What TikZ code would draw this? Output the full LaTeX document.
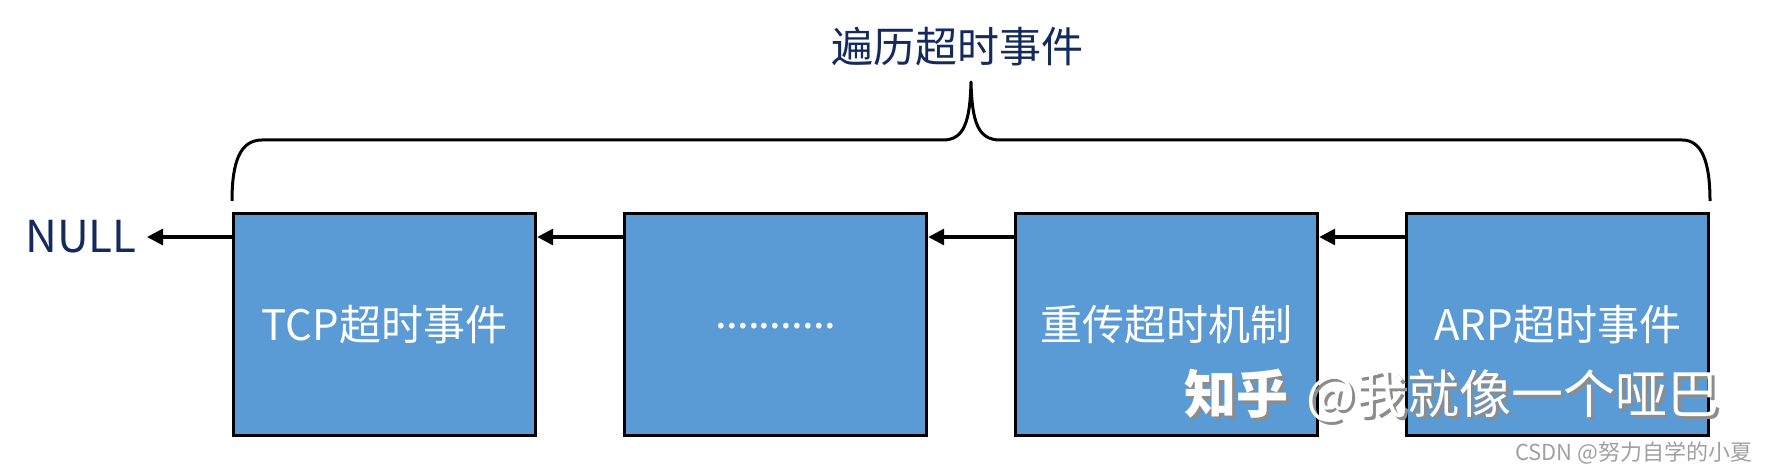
\documentclass[tikz,border=0pt]{standalone}
\usepackage{fontspec}
\setmainfont{Noto Sans CJK SC}
\usetikzlibrary{arrows.meta}
\definecolor{boxblue}{HTML}{5B9BD5}
\definecolor{navytext}{HTML}{142A5C}
\definecolor{wmshadow}{HTML}{8C8C8C}
\definecolor{csdngrey}{HTML}{A0A0A0}
\newcommand{\wmstring}{{\bfseries 知乎}\hspace{3pt} @我就像一个哑巴}
\begin{document}
\begin{tikzpicture}[x=0.5pt,y=-0.5pt,
  evbox/.style={draw=black, line width=1.6pt, fill=boxblue, minimum width=151pt,
    minimum height=111pt, inner sep=0pt, anchor=north west, text=white,
    font=\fontsize{21}{25}\selectfont},
  link/.style={line width=1.6pt, -{Triangle[length=8pt,width=8pt]}},
  bracestyle/.style={line width=1.5pt, line join=round},
  navylabel/.style={text=navytext, inner sep=0pt},
  wmtext/.style={font=\fontsize{26}{30}\selectfont, inner sep=0pt}]
\useasboundingbox (0,0) rectangle (1767,470);

% boxes
\node[evbox] (b1) at (232,212) {TCP超时事件};
\node[evbox] (b2) at (623,212) {\raisebox{-4pt}{.\kern-0.4pt.\kern-0.4pt.\kern-0.4pt.\kern-0.4pt.\kern-0.4pt.\kern-0.4pt.\kern-0.4pt.\kern-0.4pt.\kern-0.4pt.\kern-0.4pt.}};
\node[evbox] (b3) at (1014,212) {重传超时机制};
\node[evbox] (b4) at (1405,212) {ARP超时事件};

% NULL
\node[navylabel, anchor=east, font=\fontsize{22}{26}\selectfont] (null) at (137,237) {NULL};
\coordinate (nulltip) at (147,237);

% links
\draw[link] ([yshift=-12.5pt]b1.north west) -- (nulltip);
\draw[link] ([yshift=-12.5pt]b2.north west) -- ([yshift=-12.5pt]b1.north east);
\draw[link] ([yshift=-12.5pt]b3.north west) -- ([yshift=-12.5pt]b2.north east);
\draw[link] ([yshift=-12.5pt]b4.north west) -- ([yshift=-12.5pt]b3.north east);

% brace
\coordinate (bl) at (232,201);
\coordinate (br) at (1710,201);
\coordinate (tip) at (971,82);
\draw[bracestyle] (bl) .. controls (232,162) and (240,140) .. (262,140)
  -- (943,140) .. controls (964,140) and (970,122) .. (tip)
  .. controls (972,122) and (978,140) .. (1000,140)
  -- (1682,140) .. controls (1702,140) and (1710,162) .. (br);

% title
\node[navylabel, font=\fontsize{21}{25}\selectfont] (title) at (957,47) {遍历超时事件};

% watermarks
\node[wmtext, text=wmshadow] (wms) at (1455,399) {\wmstring};
\node[wmtext, text=white] (wm) at (1452,396) {\wmstring};
\node[anchor=east, inner sep=0pt, text=csdngrey, font=\fontsize{11}{13}\selectfont] (csdn) at (1753,453) {CSDN @努力自学的小夏};
\end{tikzpicture}
\end{document}
